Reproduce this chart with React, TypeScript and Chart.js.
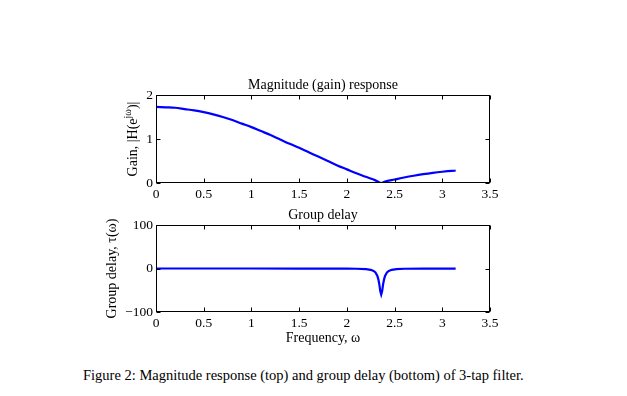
import React, { useEffect, useRef } from 'react';
import { Chart, registerables } from 'chart.js';

Chart.register(...registerables);

// ---- data ----
const xTickValues = [0, 0.5, 1, 1.5, 2, 2.5, 3, 3.5];
const gainTickValues = [0, 1, 2];
const delayTickValues = [-100, 0, 100];

const omegaGain = [0, 0.1, 0.2, 0.3, 0.4, 0.5, 0.6, 0.7, 0.8, 0.9, 1.0, 1.1, 1.2, 1.3, 1.4, 1.5, 1.6, 1.7, 1.8, 1.9, 2.0, 2.1, 2.2, 2.3, 2.36, 2.4, 2.5, 2.6, 2.7, 2.8, 2.9, 3.0, 3.1, 3.14];
const gainValues = [1.73, 1.72, 1.71, 1.68, 1.65, 1.61, 1.56, 1.5, 1.43, 1.35, 1.27, 1.18, 1.09, 0.99, 0.89, 0.8, 0.7, 0.6, 0.5, 0.4, 0.31, 0.22, 0.14, 0.06, 0.0, 0.035, 0.08, 0.125, 0.165, 0.2, 0.23, 0.255, 0.275, 0.28];

const omegaDelay = [0, 0.5, 1.0, 1.5, 2.0, 2.1, 2.2, 2.25, 2.28, 2.3, 2.32, 2.33, 2.34, 2.35, 2.36, 2.37, 2.38, 2.39, 2.4, 2.42, 2.44, 2.47, 2.52, 2.6, 2.8, 3.0, 3.14];
const delayValues = [0, 0, 0, -0.1, -0.3, -0.55, -1.4, -3, -5.5, -9, -17, -25, -36, -52, -60, -52, -36, -25, -17, -9, -5.5, -3, -1.4, -0.55, -0.2, -0.1, -0.1];

const FONT = '"Liberation Serif", "Times New Roman", serif';

type Piece = { t: string; sup?: boolean };

const decorPlugin = {
  id: 'decor',
  afterDraw(chart: any, _args: any, opts: any) {
    const { ctx, chartArea: a } = chart;
    const xs = chart.scales.x;
    const ys = chart.scales.y;
    ctx.save();
    // box
    const L = Math.round(a.left) + 0.5;
    const R = Math.round(a.right) - 0.5;
    const T = Math.round(a.top) + 0.5;
    const B = Math.round(a.bottom) - 0.5;
    ctx.strokeStyle = '#000';
    ctx.lineWidth = 1;
    ctx.strokeRect(L, T, R - L, B - T);
    // inward ticks
    const tl = 4;
    ctx.beginPath();
    for (const t of xs.ticks) {
      const px = Math.round(xs.getPixelForValue(t.value)) + 0.5;
      ctx.moveTo(px, B); ctx.lineTo(px, B - tl);
      ctx.moveTo(px, T); ctx.lineTo(px, T + tl);
    }
    for (const t of ys.ticks) {
      const py = Math.round(ys.getPixelForValue(t.value)) + 0.5;
      ctx.moveTo(L, py); ctx.lineTo(L + tl, py);
      ctx.moveTo(R, py); ctx.lineTo(R - tl, py);
    }
    ctx.stroke();

    ctx.fillStyle = '#000';
    // title
    ctx.font = `14px ${FONT}`;
    ctx.textAlign = 'center';
    ctx.textBaseline = 'middle';
    ctx.fillText(opts.title, (a.left + a.right) / 2, a.top - 10);

    // x title
    if (opts.xTitle) {
      ctx.fillText(opts.xTitle, (a.left + a.right) / 2, a.bottom + 26);
    }

    // y title (rotated, with optional superscript)
    const pieces: Piece[] = opts.yTitle;
    const widths = pieces.map((p) => {
      ctx.font = p.sup ? `10px ${FONT}` : `14px ${FONT}`;
      return ctx.measureText(p.t).width;
    });
    const total = widths.reduce((s, w) => s + w, 0);
    ctx.translate(opts.yTitleX, (a.top + a.bottom) / 2);
    ctx.rotate(-Math.PI / 2);
    ctx.textAlign = 'left';
    let cx = -total / 2;
    pieces.forEach((p, i) => {
      ctx.font = p.sup ? `10px ${FONT}` : `14px ${FONT}`;
      ctx.fillText(p.t, cx, p.sup ? -5 : 0);
      cx += widths[i];
    });
    ctx.restore();
  },
};

type PanelProps = {
  top: number;
  height: number;
  areaTop: number;
  areaBottom: number;
  xs: number[];
  ys: number[];
  yMin: number;
  yMax: number;
  yTicks: number[];
  title: string;
  yTitle: Piece[];
  yTitleX: number;
  xTitle?: string;
  smooth?: boolean;
};

function Panel(p: PanelProps) {
  const ref = useRef<HTMLCanvasElement | null>(null);
  useEffect(() => {
    if (!ref.current) return;
    const data = p.xs.map((x, i) => ({ x, y: p.ys[i] }));
    const tickFont = { family: FONT, size: 13.5 };
    const chart = new Chart(ref.current, {
      type: 'line',
      data: {
        datasets: [
          {
            data,
            borderColor: '#0000ff',
            borderWidth: 2.2,
            pointRadius: 0,
            cubicInterpolationMode: p.smooth ? 'monotone' : 'default',
            tension: 0,
            fill: false,
          },
        ],
      },
      options: {
        animation: false,
        responsive: false,
        maintainAspectRatio: false,
        events: [],
        layout: { padding: { top: p.areaTop, right: 627 - 490, left: 0, bottom: 0 } },
        plugins: {
          legend: { display: false },
          tooltip: { enabled: false },
          title: { display: false },
          decor: { title: p.title, yTitle: p.yTitle, yTitleX: p.yTitleX, xTitle: p.xTitle },
        } as any,
        scales: {
          x: {
            type: 'linear',
            min: 0,
            max: 3.5,
            afterBuildTicks: (s: any) => {
              s.ticks = xTickValues.map((v) => ({ value: v }));
            },
            afterFit: (s: any) => {
              s.height = p.height - p.areaBottom;
            },
            grid: { display: false, drawTicks: false },
            border: { display: false },
            ticks: {
              color: '#000',
              font: tickFont,
              padding: 3,
              maxRotation: 0,
              autoSkip: false,
              callback: (v: any) => String(v),
            },
          },
          y: {
            type: 'linear',
            min: p.yMin,
            max: p.yMax,
            afterBuildTicks: (s: any) => {
              s.ticks = p.yTicks.map((v) => ({ value: v }));
            },
            afterFit: (s: any) => {
              s.width = 156;
            },
            grid: { display: false, drawTicks: false },
            border: { display: false },
            ticks: {
              color: '#000',
              font: tickFont,
              padding: 3,
              autoSkip: false,
              callback: (v: any) => String(v).replace('-', '\u2212'),
            },
          },
        },
      } as any,
      plugins: [decorPlugin],
    });
    return () => chart.destroy();
  }, []);
  return (
    <div style={{ position: 'absolute', left: 0, top: p.top, width: 627, height: p.height }}>
      <canvas ref={ref} width={627} height={p.height} style={{ display: 'block' }} />
    </div>
  );
}

export default function App() {
  return (
    <div style={{ position: 'fixed', left: 0, top: 0, width: 627, height: 396, background: '#fff', overflow: 'hidden' }}>
      <Panel
        top={60}
        height={140}
        areaTop={35}
        areaBottom={123}
        xs={omegaGain}
        ys={gainValues}
        yMin={0}
        yMax={2}
        yTicks={gainTickValues}
        title="Magnitude (gain) response"
        yTitle={[{ t: 'Gain, |H(e' }, { t: 'jω', sup: true }, { t: ')|' }]}
        yTitleX={133}
        smooth
      />
      <Panel
        top={200}
        height={150}
        areaTop={25}
        areaBottom={112}
        xs={omegaDelay}
        ys={delayValues}
        yMin={-100}
        yMax={100}
        yTicks={delayTickValues}
        title="Group delay"
        yTitle={[{ t: 'Group delay, τ(ω)' }]}
        yTitleX={112}
        xTitle="Frequency, ω"
      />
      <div
        style={{
          position: 'absolute',
          left: 83,
          top: 366,
          fontFamily: FONT,
          fontSize: 14.5,
          lineHeight: '18px',
          color: '#000',
          whiteSpace: 'nowrap',
        }}
      >
        Figure 2: Magnitude response (top) and group delay (bottom) of 3-tap filter.
      </div>
    </div>
  );
}
